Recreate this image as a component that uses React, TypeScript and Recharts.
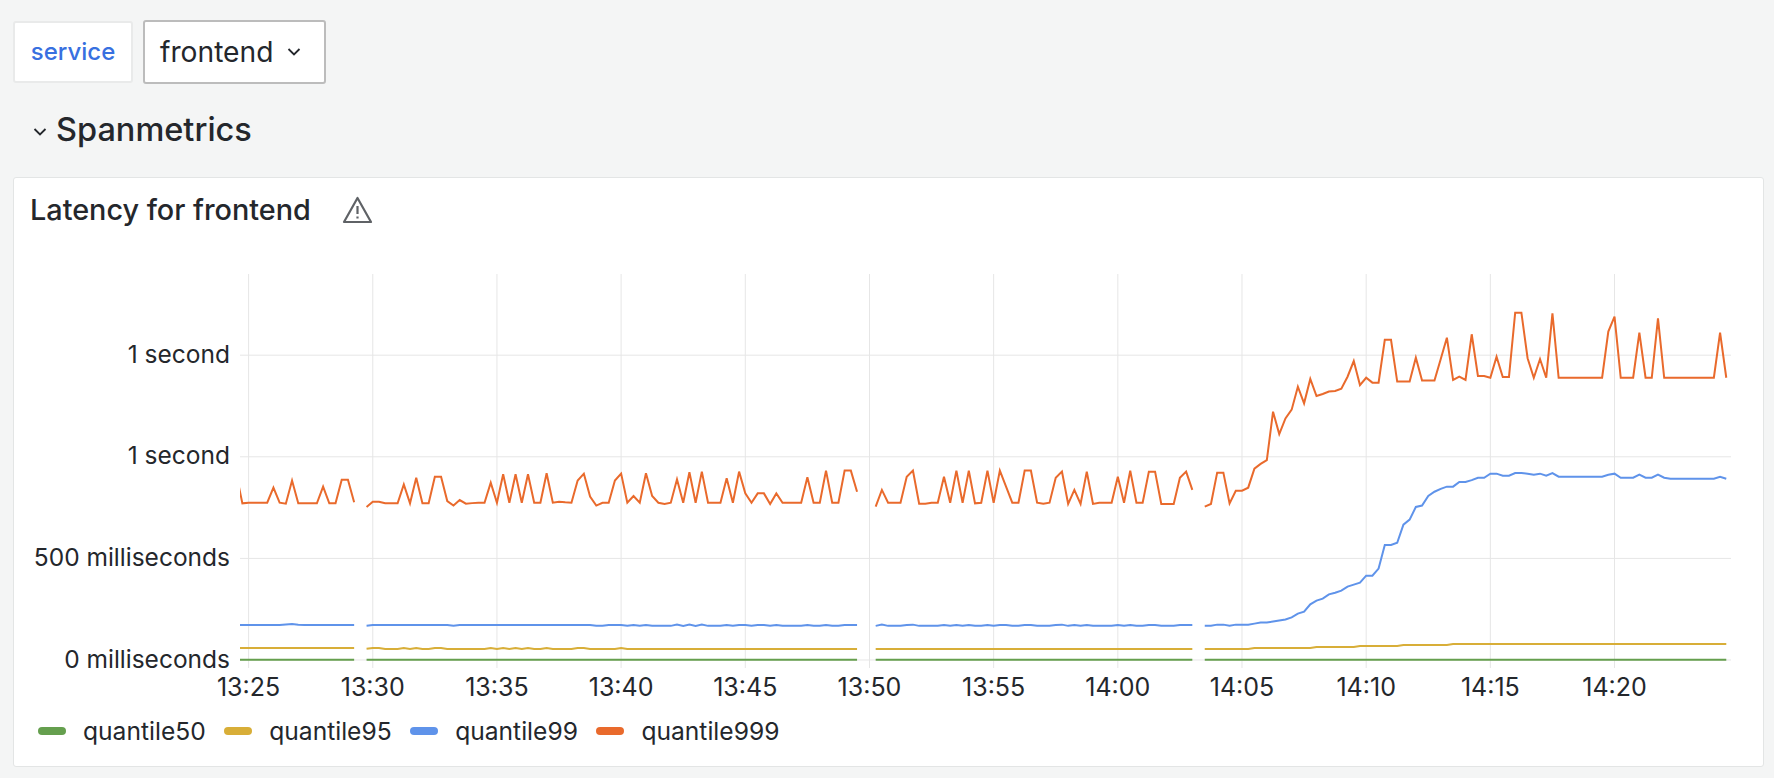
import { LineChart, Line, XAxis, YAxis, CartesianGrid, Legend } from 'recharts'

const FONT = 'Inter, sans-serif'
const TEXT = '#24272c'
const GRID = '#e6e6e6'

const xTicks = [0, 5, 10, 15, 20, 25, 30, 35, 40, 45, 50, 55]
const xLabels = ['13:25', '13:30', '13:35', '13:40', '13:45', '13:50', '13:55', '14:00', '14:05', '14:10', '14:15', '14:20']
const yTicks = [0, 500, 1000, 1500]
const yLabels = ['0 milliseconds', '500 milliseconds', '1 second', '1 second']

// one value every 15 seconds, first sample is 30s before 13:25, null = no data
const quantile50 = [
  1, 1, 1, 1, 1, 1, 1, 1, 1, 1,
  1, 1, 1, 1, 1, 1, 1, 1, 1, 1,
  null, 1, 1, 1, 1, 1, 1, 1, 1, 1,
  1, 1, 1, 1, 1, 1, 1, 1, 1, 1,
  1, 1, 1, 1, 1, 1, 1, 1, 1, 1,
  1, 1, 1, 1, 1, 1, 1, 1, 1, 1,
  1, 1, 1, 1, 1, 1, 1, 1, 1, 1,
  1, 1, 1, 1, 1, 1, 1, 1, 1, 1,
  1, 1, 1, 1, 1, 1, 1, 1, 1, 1,
  1, 1, 1, 1, 1, 1, 1, 1, 1, 1,
  1, null, null, 1, 1, 1, 1, 1, 1, 1,
  1, 1, 1, 1, 1, 1, 1, 1, 1, 1,
  1, 1, 1, 1, 1, 1, 1, 1, 1, 1,
  1, 1, 1, 1, 1, 1, 1, 1, 1, 1,
  1, 1, 1, 1, 1, 1, 1, 1, 1, 1,
  1, 1, 1, 1, 1, null, 1, 1, 1, 1,
  1, 1, 1, 1, 1, 1, 1, 1, 1, 1,
  1, 1, 1, 1, 1, 1, 1, 1, 1, 1,
  1, 1, 1, 1, 1, 1, 1, 1, 1, 1,
  1, 1, 1, 1, 1, 1, 1, 1, 1, 1,
  1, 1, 1, 1, 1, 1, 1, 1, 1, 1,
  1, 1, 1, 1, 1, 1, 1, 1, 1, 1,
  1, 1, 1, 1, 1, 1, 1, 1, 1, 1,
  1, 1, 1, 1, 1, 1, 1, 1, 1, 1,
  1,
]

const quantile95 = [
  59, 59, 59, 59, 59, 59, 59, 59, 59, 59,
  59, 59, 59, 59, 59, 59, 59, 59, 59, 59,
  null, 55, 59, 59, 54, 54, 54, 59, 54, 59,
  54, 54, 59, 59, 54, 54, 54, 54, 54, 54,
  54, 59, 54, 59, 54, 59, 54, 59, 54, 54,
  59, 54, 54, 54, 54, 59, 59, 54, 54, 54,
  54, 54, 59, 54, 54, 54, 54, 54, 54, 54,
  54, 54, 54, 54, 54, 54, 54, 54, 54, 54,
  54, 54, 54, 54, 54, 54, 54, 54, 54, 54,
  54, 54, 54, 54, 54, 54, 54, 54, 54, 54,
  54, null, null, 54, 54, 54, 54, 54, 54, 54,
  54, 54, 54, 54, 54, 54, 54, 54, 54, 54,
  54, 54, 54, 54, 54, 54, 54, 54, 54, 54,
  54, 54, 54, 54, 54, 54, 54, 54, 54, 54,
  54, 54, 54, 54, 54, 54, 54, 54, 54, 54,
  54, 54, 54, 54, 54, null, 54, 54, 54, 54,
  54, 54, 54, 54, 59, 59, 59, 59, 59, 59,
  59, 59, 59, 59, 64, 64, 64, 64, 64, 64,
  64, 69, 69, 69, 69, 69, 69, 69, 74, 74,
  74, 74, 74, 74, 74, 74, 79, 79, 79, 79,
  79, 79, 79, 79, 79, 79, 79, 79, 79, 79,
  79, 79, 79, 79, 79, 79, 79, 79, 79, 79,
  79, 79, 79, 79, 79, 79, 79, 79, 79, 79,
  79, 79, 79, 79, 79, 79, 79, 79, 79, 79,
  79,
]

const quantile99 = [
  172, 172, 172, 172, 172, 172, 172, 172, 175, 177,
  174, 172, 172, 172, 172, 172, 172, 172, 172, 172,
  null, 169, 172, 172, 172, 172, 172, 172, 172, 172,
  172, 172, 172, 172, 172, 168, 172, 172, 172, 172,
  172, 172, 172, 172, 172, 172, 172, 172, 172, 172,
  172, 172, 172, 172, 172, 172, 172, 172, 168, 168,
  172, 172, 172, 168, 172, 168, 172, 168, 168, 168,
  168, 174, 168, 174, 168, 174, 168, 168, 168, 172,
  168, 172, 172, 168, 172, 172, 168, 172, 168, 168,
  168, 168, 172, 168, 168, 172, 168, 168, 172, 172,
  172, null, null, 168, 174, 168, 168, 168, 172, 174,
  168, 168, 168, 168, 172, 168, 172, 168, 172, 168,
  168, 172, 168, 172, 172, 168, 168, 172, 172, 168,
  168, 168, 172, 174, 168, 172, 168, 172, 168, 168,
  168, 168, 172, 168, 172, 168, 168, 172, 172, 168,
  168, 168, 172, 172, 172, null, 169, 169, 174, 174,
  169, 174, 174, 174, 179, 184, 184, 189, 194, 199,
  210, 228, 238, 274, 292, 302, 323, 331, 341, 361,
  371, 381, 415, 415, 450, 566, 566, 577, 666, 691,
  753, 760, 807, 828, 842, 853, 853, 876, 876, 885,
  897, 897, 917, 917, 907, 907, 920, 920, 917, 912,
  917, 907, 920, 902, 902, 902, 902, 902, 902, 902,
  902, 912, 917, 897, 897, 897, 912, 897, 897, 912,
  897, 892, 892, 892, 892, 892, 892, 892, 892, 901,
  892,
]

const quantile999 = [
  918, 771, 774, 774, 774, 774, 848, 774, 769, 883,
  771, 771, 771, 771, 853, 771, 771, 887, 887, 776,
  null, 753, 779, 779, 771, 771, 771, 864, 771, 897,
  771, 771, 902, 902, 782, 760, 787, 769, 772, 774,
  774, 873, 774, 914, 774, 914, 774, 914, 774, 774,
  919, 774, 779, 776, 774, 883, 917, 804, 760, 774,
  774, 883, 917, 774, 807, 774, 919, 807, 774, 768,
  774, 889, 774, 924, 774, 927, 774, 774, 774, 894,
  774, 927, 820, 774, 820, 820, 768, 820, 774, 774,
  774, 774, 899, 774, 774, 932, 774, 774, 932, 932,
  828, null, null, 755, 837, 774, 774, 774, 902, 932,
  769, 769, 774, 774, 902, 774, 932, 774, 932, 771,
  774, 932, 774, 932, 853, 774, 774, 932, 932, 774,
  769, 774, 897, 927, 768, 837, 768, 927, 768, 774,
  774, 774, 902, 774, 932, 774, 774, 927, 927, 768,
  768, 768, 897, 927, 837, null, 755, 768, 922, 922,
  771, 833, 833, 848, 942, 965, 984, 1222, 1112, 1189,
  1232, 1345, 1263, 1383, 1299, 1309, 1321, 1324, 1335, 1394,
  1471, 1353, 1389, 1365, 1365, 1576, 1576, 1370, 1370, 1370,
  1488, 1375, 1375, 1375, 1480, 1586, 1378, 1394, 1378, 1603,
  1398, 1398, 1389, 1493, 1393, 1393, 1709, 1709, 1485, 1389,
  1481, 1389, 1706, 1389, 1389, 1389, 1389, 1389, 1389, 1389,
  1389, 1616, 1690, 1389, 1389, 1389, 1611, 1389, 1389, 1681,
  1389, 1389, 1389, 1389, 1389, 1389, 1389, 1389, 1389, 1611,
  1389,
]

// minutes after 13:25
const chartData = quantile999.map((_, i) => ({
  minute: (i - 2) * 0.25,
  quantile50: quantile50[i],
  quantile95: quantile95[i],
  quantile99: quantile99[i],
  quantile999: quantile999[i],
}))

const seriesColors = { quantile50: '#659f4e', quantile95: '#d8ae38', quantile99: '#5f93ea', quantile999: '#e96a2c' }

function LegendRow({ payload }: { payload?: Array<{ value: string; color: string }> }) {
  return (
    <div style={{ display: 'flex', gap: 18.5, fontFamily: FONT, fontSize: 24.6, color: TEXT, lineHeight: '36px' }}>
      {payload?.map((p) => (
        <div key={p.value} style={{ display: 'flex', alignItems: 'center', gap: 17 }}>
          <span style={{ width: 28, height: 8, borderRadius: 4, background: p.color }} />
          <span>{p.value}</span>
        </div>
      ))}
    </div>
  )
}

function Chevron({ x, y }: { x: number; y: number }) {
  return (
    <svg width={14} height={10} style={{ position: 'absolute', left: x, top: y }}>
      <path d="M1.5 2 L7 7.5 L12.5 2" fill="none" stroke={TEXT} strokeWidth={1.8} />
    </svg>
  )
}

export default function App() {
  return (
    <div style={{ position: 'absolute', left: 0, top: 0, width: 1774, height: 778, background: '#f4f5f5', fontFamily: FONT, color: TEXT, overflow: 'hidden' }}>
      <div style={{ position: 'absolute', left: 13, top: 21, width: 120, height: 62, boxSizing: 'border-box', background: '#fff', border: '2px solid #e9eaea', borderRadius: 3, textAlign: 'center', lineHeight: '58px', fontSize: 24, fontWeight: 500, color: '#3870e0' }}>service</div>
      <div style={{ position: 'absolute', left: 143, top: 20, width: 183, height: 64, boxSizing: 'border-box', background: '#fff', border: '2px solid #bcbcbc', borderRadius: 3, lineHeight: '60px', fontSize: 28.2, paddingLeft: 15 }}>frontend</div>
      <Chevron x={287} y={47} />
      <Chevron x={33} y={127} />
      <div style={{ position: 'absolute', left: 56, top: 108, fontSize: 32.5, fontWeight: 500, lineHeight: '44px' }}>Spanmetrics</div>
      <div style={{ position: 'absolute', left: 13, top: 177, width: 1751, height: 590, boxSizing: 'border-box', background: '#fff', border: '1px solid #e3e5e5', borderRadius: 3 }} />
      <div style={{ position: 'absolute', left: 30, top: 192, fontSize: 28.8, fontWeight: 500, lineHeight: '36px' }}>Latency for frontend</div>
      <svg width={32} height={30} style={{ position: 'absolute', left: 342, top: 195 }}>
        <path d="M15.5 3 L29 27 L2 27 Z" fill="none" stroke="#5f6266" strokeWidth={2.2} strokeLinejoin="round" />
        <path d="M15.5 11 L15.5 19 M15.5 21.5 L15.5 23.5" fill="none" stroke="#5f6266" strokeWidth={2.2} />
      </svg>
      <div style={{ position: 'absolute', left: 0, top: 0 }}>
        <LineChart width={1774} height={778} data={chartData} margin={{ top: 274, right: 43, bottom: 44, left: 0 }}>
          <CartesianGrid stroke={GRID} strokeWidth={1} syncWithTicks />
          <XAxis dataKey="minute" type="number" domain={[-0.346, 59.69]} allowDataOverflow ticks={xTicks} height={30}
            axisLine={false} tickLine={false} tickSize={0} tickMargin={10} interval={0}
            tick={{ fontSize: 25, fontFamily: FONT, fill: TEXT }} tickFormatter={(v) => xLabels[xTicks.indexOf(v)]} />
          <YAxis type="number" domain={[-39.4, 1899.6]} ticks={yTicks} width={240}
            axisLine={false} tickLine={false} tickSize={0} tickMargin={10} interval={0}
            tick={{ fontSize: 24.5, fontFamily: FONT, fill: TEXT, dy: -1 }} tickFormatter={(v) => yLabels[yTicks.indexOf(v)]} />
          <Legend verticalAlign="bottom" align="left" height={36} content={<LegendRow />} wrapperStyle={{ left: 38, bottom: 29, width: 900 }} />
          <Line dataKey="quantile50" stroke={seriesColors.quantile50} strokeWidth={2} dot={false} isAnimationActive={false} />
          <Line dataKey="quantile95" stroke={seriesColors.quantile95} strokeWidth={2} dot={false} isAnimationActive={false} />
          <Line dataKey="quantile99" stroke={seriesColors.quantile99} strokeWidth={2} dot={false} isAnimationActive={false} />
          <Line dataKey="quantile999" stroke={seriesColors.quantile999} strokeWidth={2} dot={false} isAnimationActive={false} />
        </LineChart>
      </div>
    </div>
  )
}
